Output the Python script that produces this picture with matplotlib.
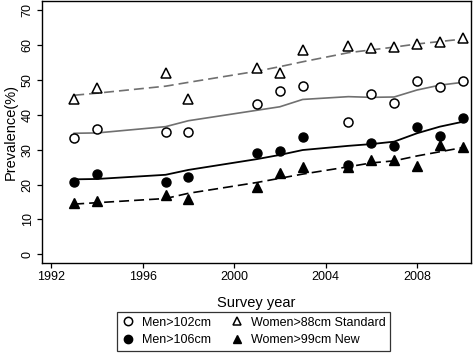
import matplotlib
matplotlib.use("Agg")
import matplotlib.pyplot as plt
from matplotlib.lines import Line2D

plt.rcParams['font.family'] = ['Liberation Sans', 'DejaVu Sans']

years = [1993, 1994, 1997, 1998, 2001, 2002, 2003, 2005, 2006, 2007, 2008, 2009, 2010]

# observed prevalence (%)
men102 = [33.4, 35.9, 35.1, 35.0, 43.0, 46.9, 48.2, 37.8, 45.9, 43.4, 49.6, 48.0, 49.6]
men106 = [20.6, 22.9, 20.6, 22.2, 29.1, 29.7, 33.7, 25.6, 32.0, 31.1, 36.6, 34.0, 39.1]
women88 = [44.4, 47.6, 52.1, 44.5, 53.3, 51.9, 58.5, 59.8, 59.2, 59.4, 60.2, 61.0, 61.9]
women99 = [14.6, 15.3, 17.0, 15.8, 19.4, 23.4, 25.1, 25.1, 27.0, 27.0, 25.3, 31.2, 30.8]

# smoothed trends
men102_fit = [34.7, 34.8, 36.6, 38.3, 41.3, 42.3, 44.4, 45.2, 45.0, 45.1, 47.1, 48.5, 49.3]
men106_fit = [21.5, 21.6, 22.8, 24.2, 27.3, 28.5, 29.9, 31.1, 31.6, 32.3, 34.7, 36.6, 38.0]
women88_fit = [45.6, 46.2, 48.2, 49.3, 52.5, 53.8, 55.2, 57.8, 58.6, 59.4, 60.3, 61.0, 61.7]
women99_fit = [14.4, 14.8, 16.0, 17.5, 20.6, 21.8, 23.0, 25.1, 26.2, 26.8, 28.2, 29.4, 30.6]

xticks = [1992, 1996, 2000, 2004, 2008]
yticks = [0, 10, 20, 30, 40, 50, 60, 70]

fig = plt.figure(figsize=(4.74, 3.55), dpi=100)
ax = fig.add_axes([0.089, 0.26, 0.904, 0.737])

gray = '#707070'
ax.plot(years, women88_fit, color=gray, lw=1.2, ls=(0, (6, 3)))
ax.plot(years, men102_fit, color=gray, lw=1.2)
ax.plot(years, men106_fit, color='black', lw=1.3)
ax.plot(years, women99_fit, color='black', lw=1.2, ls=(0, (6, 3)))

ax.plot(years, men102, 'o', ms=6.5, mfc='white', mec='black', mew=1.1, ls='none')
ax.plot(years, men106, 'o', ms=6.5, mfc='black', mec='black', ls='none')
ax.plot(years, women88, '^', ms=7, mfc='white', mec='black', mew=1.1, ls='none')
ax.plot(years, women99, '^', ms=7, mfc='black', mec='black', ls='none')

ax.set_xlim(1991.6, 2010.35)
ax.set_ylim(-2.4, 72.6)
ax.set_xticks(xticks)
ax.set_yticks(yticks)
ax.tick_params(labelsize=9, length=3.6, width=0.9, pad=2.5)
ax.set_yticklabels([str(v) for v in yticks], rotation=90, va='center')
for s in ax.spines.values():
    s.set_linewidth(1.0)

ax.set_xlabel('Survey year', fontsize=10.5)
ax.set_ylabel('Prevalence(%)', fontsize=10.5)
ax.xaxis.set_label_coords(0.5, -0.127)
ax.yaxis.set_label_coords(-0.057, 0.5)

handles = [
    Line2D([], [], marker='o', ls='none', ms=6, mfc='white', mec='black', mew=1.1),
    Line2D([], [], marker='o', ls='none', ms=6, mfc='black', mec='black'),
    Line2D([], [], marker='^', ls='none', ms=6, mfc='white', mec='black', mew=1.1),
    Line2D([], [], marker='^', ls='none', ms=6, mfc='black', mec='black'),
]
labels = ['Men>102cm', 'Men>106cm', 'Women>88cm Standard', 'Women>99cm New']
leg = fig.legend(handles, labels, ncol=2, loc='center', bbox_to_anchor=(0.535, 0.066),
                 fontsize=9, frameon=True, fancybox=False, edgecolor='black',
                 handlelength=1.0, handletextpad=0.6, columnspacing=1.6,
                 labelspacing=0.45, borderpad=0.35, borderaxespad=0)
leg.get_frame().set_linewidth(0.9)

fig.savefig('out.png', dpi=100)
